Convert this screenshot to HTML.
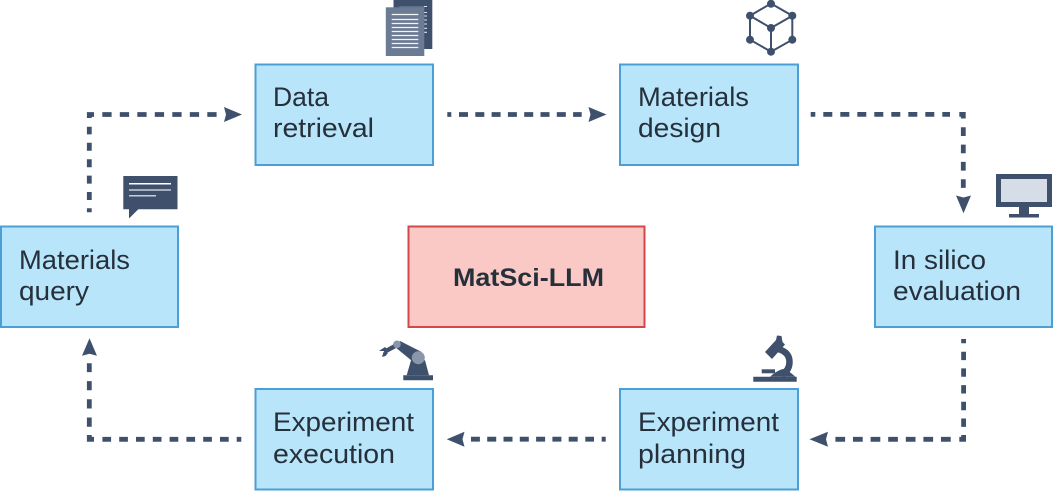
<!DOCTYPE html>
<html>
<head>
<meta charset="utf-8">
<style>
html,body{margin:0;padding:0;background:#fff;width:1053px;height:491px;overflow:hidden}
svg{display:block}
text{font-family:"Liberation Sans",sans-serif;font-size:26.5px;fill:#25303b}
.b{fill:#b9e5fb;stroke:#4c9fd6;stroke-width:2}
.d{fill:none;stroke:#3f506d;stroke-width:4.8}
.a{fill:#3f506d}
.i{fill:#3f506d}
</style>
</head>
<body>
<svg width="1053" height="491" viewBox="0 0 1053 491" xmlns="http://www.w3.org/2000/svg">
<!-- boxes -->
<rect class="b" x="255.5" y="64.5" width="177.5" height="100.5"/>
<rect class="b" x="620" y="64.5" width="178" height="100.5"/>
<rect class="b" x="875" y="226.5" width="177" height="100.5"/>
<rect class="b" x="1" y="226.5" width="177" height="100.5"/>
<rect class="b" x="255.5" y="389" width="177.5" height="100.5"/>
<rect class="b" x="620" y="389" width="178" height="100.5"/>
<rect x="408.5" y="226.5" width="236" height="100.5" fill="#fbc9c5" stroke="#d2484a" stroke-width="2"/>
<!-- labels -->
<text x="273" y="106" textLength="56" lengthAdjust="spacingAndGlyphs">Data</text>
<text x="273" y="137" textLength="101" lengthAdjust="spacingAndGlyphs">retrieval</text>
<text x="638" y="106" textLength="111" lengthAdjust="spacingAndGlyphs">Materials</text>
<text x="638" y="137" textLength="83" lengthAdjust="spacingAndGlyphs">design</text>
<text x="893" y="269" textLength="93" lengthAdjust="spacingAndGlyphs">In silico</text>
<text x="893" y="300" textLength="128" lengthAdjust="spacingAndGlyphs">evaluation</text>
<text x="19" y="269" textLength="111" lengthAdjust="spacingAndGlyphs">Materials</text>
<text x="19" y="300" textLength="70" lengthAdjust="spacingAndGlyphs">query</text>
<text x="273" y="431" textLength="141" lengthAdjust="spacingAndGlyphs">Experiment</text>
<text x="273" y="463" textLength="122" lengthAdjust="spacingAndGlyphs">execution</text>
<text x="638" y="431" textLength="141" lengthAdjust="spacingAndGlyphs">Experiment</text>
<text x="638" y="463" textLength="108" lengthAdjust="spacingAndGlyphs">planning</text>
<text x="453" y="286" textLength="151" lengthAdjust="spacingAndGlyphs" style="font-size:25px;font-weight:bold">MatSci-LLM</text>
<!-- connector 1: query to retrieval -->
<path class="d" d="M89.3 212.3V126.7" stroke-dasharray="4 8.3 8 8.4 8 8.4 8 8.4 8 8.4 8"/>
<path class="d" d="M94 114.5H89.3V118"/>
<path class="d" d="M102.300 114.500H217" stroke-dasharray="9.300 8.200"/>
<path class="a" d="M224 107L242 114.500L224 122L226 114.500Z"/>
<!-- connector 2: retrieval to design -->
<path class="d" d="M447.300 114.500H581.700" stroke-dasharray="4 7.700 9 7.300 9 7.300 9 7.300 9 7.300 9 7.300 9 7.300 9 7.300 9"/>
<path class="a" d="M588.500 107L606.500 114.500L588.500 122L590.500 114.500Z"/>
<!-- connector 3: design to in silico -->
<path class="d" d="M810.700 114.400H950" stroke-dasharray="4.600 8 9 8 9 8 9 8 9 8 9 8 9 8 9 8 9"/>
<path class="d" d="M959.300 114.400H963.300V118.500"/>
<path class="d" d="M963.300 127.300V188" stroke-dasharray="8.700 8.600"/>
<path class="a" d="M956 195.500L963.500 213.300L971 195.500L963.500 197.500Z"/>
<!-- connector 4: in silico to planning -->
<path class="d" d="M963.600 339V427" stroke-dasharray="4.300 8.400 8.400 8.300 8.400 8.300 8.400 8.300 8.400 8.300 8.400"/>
<path class="d" d="M963.600 435V439.300H959.300"/>
<path class="d" d="M950.700 439.300H835" stroke-dasharray="9.700 7.900"/>
<path class="a" d="M828 431.800L809.500 439.300L828 446.800L826 439.300Z"/>
<!-- connector 5: planning to execution -->
<path class="d" d="M605.700 439.200H471" stroke-dasharray="4 7.700 8.700 7.600 9 7.300 9 7.300 9 7.300 9 7.300 9 7.300 9 7.300 9"/>
<path class="a" d="M464.500 431.800L446.800 439.200L464.500 446.800L462.500 439.200Z"/>
<!-- connector 6: execution to query -->
<path class="d" d="M241.300 439.300H102" stroke-dasharray="4.600 8 8.700 8.100 8.700 8.100 8.700 8.100 8.700 8.100 8.700 8.100 8.700 8.100 8.700 8.100 8.700"/>
<path class="d" d="M94 439.300H89.300V435"/>
<path class="d" d="M89.300 426.700V363.300" stroke-dasharray="9.200 9"/>
<path class="a" d="M82 355.800L89.500 338.200L97 355.800L89.500 353.800Z"/>
<!-- documents icon -->
<rect x="393.500" y="0" width="38.800" height="49" fill="#3f506d"/>
<rect x="399.300" y="6" width="25" height="3" fill="#5f6f89"/>
<g stroke="#dfe5ec" stroke-width="1.100">
<path d="M424 6.500H427M424 12.500H427M424 16H427M424 20H427M424 24H427M424 28.300H427M424 32.300H427"/>
</g>
<rect x="385.800" y="7.300" width="38.500" height="48.700" fill="#6c7b94"/>
<g stroke="#f2f5f8" stroke-width="1.200">
<path d="M391.700 14.500H418.300M391.700 19.500H418.300M391.700 23.500H418.300M391.700 27.500H418.300M391.700 31.500H418.300M391.700 35.500H418.300M391.700 39.500H418.300M391.700 43.500H418.300M391.700 47.500H418.300"/>
</g>
<!-- cube icon -->
<g stroke="#3f506d" stroke-width="2" fill="none">
<path d="M771 3.500L750 15.700V39.700L771 51.700L792.300 39.700V15.700ZM750 15.700L771 28L792.300 15.700M771 28V51.700"/>
</g>
<g class="i">
<circle cx="771" cy="3.800" r="4"/><circle cx="750" cy="15.700" r="4"/><circle cx="792.300" cy="15.700" r="4"/>
<circle cx="771" cy="28" r="4"/><circle cx="750" cy="39.700" r="4"/><circle cx="792.300" cy="39.700" r="4"/>
<circle cx="771" cy="51.700" r="4"/>
</g>
<!-- monitor icon -->
<rect x="996" y="174" width="56" height="33" fill="#3f506d"/>
<rect x="1001" y="179" width="46" height="23" fill="#d6dde6"/>
<rect x="1019" y="207" width="10" height="7" fill="#3f506d"/>
<rect x="1009" y="214" width="30" height="3.500" fill="#3f506d"/>
<!-- microscope icon -->
<g class="i">
<path d="M753.300 376.700H796.700V381.700H753.300Z"/>
<path d="M761.700 369.300H775V373.300H761.700Z"/>
<path d="M770 376.700Q780 368 786 369L795.500 376.700Z"/>
<path d="M765 352L776 340L777 335.500L781.500 336L782.500 342L785 344.500L772 359Z"/>
<path d="M778 349Q789.500 352 789.500 362Q789.500 370 782 375" fill="none" stroke="#3f506d" stroke-width="6.500"/>
</g>
<!-- robot arm icon -->
<g>
<path d="M403.300 375.300H433V380.300H403.300Z" fill="#3f506d"/>
<path d="M411 360.300H425L429 375.300H406.700Z" fill="#3f506d"/>
<path d="M395 347L400 341L421.700 352L413.300 362Z" fill="#3f506d"/>
<path d="M383.300 350L395 343.500L397 347.500L385 354Z" fill="#3f506d"/>
<path d="M379 351L385 347L388 350L384 351Z" fill="#3f506d"/>
<path d="M382 357L383.500 352L388 353L385.500 356Z" fill="#3f506d"/>
<circle cx="397" cy="344.300" r="3.800" fill="#8a97ab"/>
<circle cx="418.300" cy="357.700" r="6.500" fill="#8a97ab"/>
</g>
<!-- speech bubble icon -->
<path d="M123.300 176H177.500V209.300H138.300L129 218.500V209.300H123.300Z" fill="#3f506d"/>
<g stroke-width="1.500">
<path d="M129 183.700H171" stroke="#fff"/>
<path d="M129 190H171" stroke="#c8ced8"/>
<path d="M129 195.700H156" stroke="#c8ced8"/>
</g>
</svg>
</body>
</html>
